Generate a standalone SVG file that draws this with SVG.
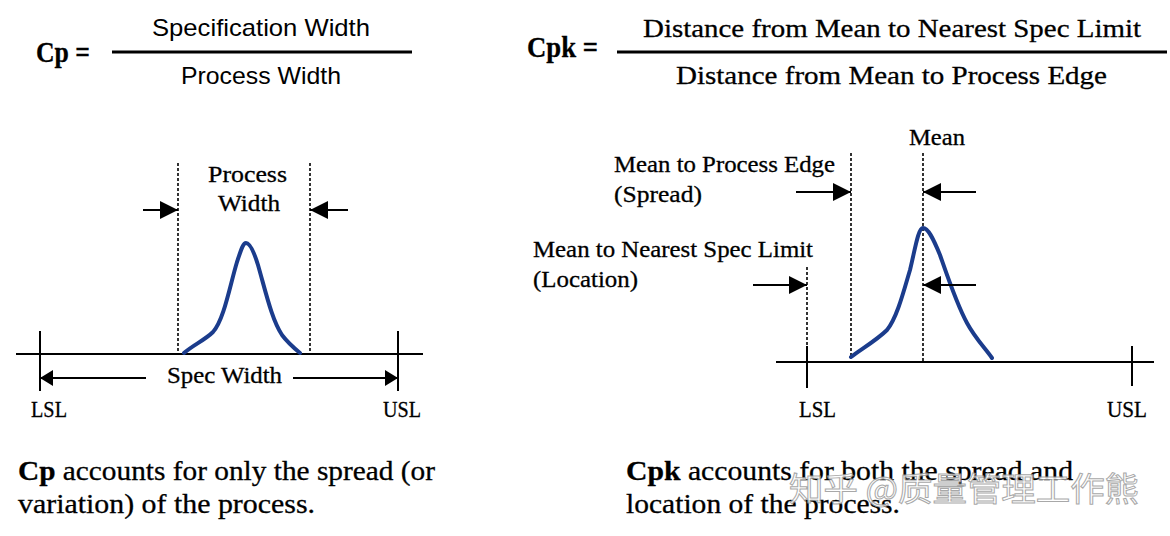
<svg xmlns="http://www.w3.org/2000/svg" width="1170" height="536" viewBox="0 0 1170 536">
<defs>
<style>
.serif{font-family:"Liberation Serif","DejaVu Serif",serif;fill:#000;stroke:#000;stroke-width:0.3}
.sans{font-family:"Liberation Sans","Open Sans",sans-serif;fill:#000}
.b{font-weight:bold}
.axis{stroke:#000;stroke-width:2;fill:none}
.frac{stroke:#000;stroke-width:3}
.dot{stroke:#000;stroke-width:1.6;stroke-dasharray:3 2;fill:none}
.arr{stroke:#000;stroke-width:2;fill:none}
.curve{stroke:#1B3C8C;stroke-width:4;fill:none;stroke-linecap:round;stroke-linejoin:round}
.wm{font-family:"Noto Sans CJK SC","DejaVu Sans",sans-serif;fill:#fff;stroke:#9a9a9a;stroke-width:1;opacity:0.85}
</style>
<marker id="ah" markerUnits="userSpaceOnUse" markerWidth="18" markerHeight="18" viewBox="0 0 18 18" refX="18" refY="9" orient="auto">
<path d="M0,0 L18,9 L0,18 Z" fill="#000"/>
</marker>
<marker id="ahs" markerUnits="userSpaceOnUse" markerWidth="13" markerHeight="16" viewBox="0 0 13 16" refX="13" refY="8" orient="auto">
<path d="M0,0 L13,8 L0,16 Z" fill="#000"/>
</marker>
</defs>
<rect width="1170" height="536" fill="#fff"/>

<g id="cp-formula">
<text class="serif b" x="36" y="62" font-size="29" textLength="54" lengthAdjust="spacingAndGlyphs">Cp =</text>
<line class="frac" x1="112" y1="52" x2="412" y2="52"/>
<text class="sans" x="152" y="36" font-size="24" textLength="218" lengthAdjust="spacingAndGlyphs">Specification Width</text>
<text class="sans" x="181" y="84" font-size="24" textLength="160" lengthAdjust="spacingAndGlyphs">Process Width</text>
</g>

<g id="cpk-formula">
<text class="serif b" x="527" y="57" font-size="29" textLength="71" lengthAdjust="spacingAndGlyphs">Cpk =</text>
<line class="frac" x1="617" y1="52" x2="1167" y2="52"/>
<text class="serif" x="643" y="37" font-size="26" textLength="498" lengthAdjust="spacingAndGlyphs">Distance from Mean to Nearest Spec Limit</text>
<text class="serif" x="676" y="84" font-size="26" textLength="431" lengthAdjust="spacingAndGlyphs">Distance from Mean to Process Edge</text>
</g>

<g id="cp-chart">
<line class="axis" x1="16" y1="354" x2="423" y2="354"/>
<line class="axis" x1="40" y1="331" x2="40" y2="391"/>
<line class="axis" x1="398" y1="331" x2="398" y2="391"/>
<line class="dot" x1="178" y1="163" x2="178" y2="354"/>
<line class="dot" x1="310" y1="163" x2="310" y2="354"/>
<path class="curve" d="M184,353 C193,345 205,340 213,332 C224,320 230,285 237,262 C241,250 243,243 246,243 C250,243 254,252 258,265 C266,293 272,320 282,335 C288,343 294,348 300,353"/>
<text class="serif" x="208" y="182" font-size="24" textLength="79" lengthAdjust="spacingAndGlyphs">Process</text>
<text class="serif" x="218" y="211" font-size="24" textLength="62" lengthAdjust="spacingAndGlyphs">Width</text>
<text class="serif" x="167" y="383" font-size="24" textLength="115" lengthAdjust="spacingAndGlyphs">Spec Width</text>
<text class="serif" x="31" y="417" font-size="23" textLength="36" lengthAdjust="spacingAndGlyphs">LSL</text>
<text class="serif" x="383" y="417" font-size="23" textLength="38" lengthAdjust="spacingAndGlyphs">USL</text>
</g>

<g id="cpk-chart">
<line class="axis" x1="776" y1="362" x2="1154" y2="362"/>
<line class="axis" x1="807" y1="346" x2="807" y2="388"/>
<line class="axis" x1="1132" y1="346" x2="1132" y2="386"/>
<line class="dot" x1="807" y1="267" x2="807" y2="346"/>
<line class="dot" x1="851" y1="153" x2="851" y2="357"/>
<line class="dot" x1="923" y1="153" x2="923" y2="362"/>
<path class="curve" d="M851,357 C860,350 877,340 887,330 C897,318 904,290 910,270 C915,250 918,228 923,228 C928,228 933,238 940,255 C947,275 957,305 967,323 C975,338 985,348 992,358"/>
<text class="serif" x="909" y="145" font-size="24" textLength="56" lengthAdjust="spacingAndGlyphs">Mean</text>
<text class="serif" x="614" y="172" font-size="24" textLength="221" lengthAdjust="spacingAndGlyphs">Mean to Process Edge</text>
<text class="serif" x="614" y="202" font-size="24" textLength="88" lengthAdjust="spacingAndGlyphs">(Spread)</text>
<text class="serif" x="533" y="257" font-size="24" textLength="280" lengthAdjust="spacingAndGlyphs">Mean to Nearest Spec Limit</text>
<text class="serif" x="533" y="287" font-size="24" textLength="105" lengthAdjust="spacingAndGlyphs">(Location)</text>
<text class="serif" x="799" y="417" font-size="23" textLength="37" lengthAdjust="spacingAndGlyphs">LSL</text>
<text class="serif" x="1107" y="417" font-size="23" textLength="40" lengthAdjust="spacingAndGlyphs">USL</text>
</g>

<g id="connectors">
<line class="arr" x1="143" y1="210" x2="178" y2="210" marker-end="url(#ah)"/>
<line class="arr" x1="348" y1="210" x2="310" y2="210" marker-end="url(#ah)"/>
<line class="arr" x1="146" y1="378" x2="40" y2="378" marker-end="url(#ahs)"/>
<line class="arr" x1="293" y1="378" x2="398" y2="378" marker-end="url(#ahs)"/>
<line class="arr" x1="796" y1="192" x2="851" y2="192" marker-end="url(#ah)"/>
<line class="arr" x1="976" y1="192" x2="923" y2="192" marker-end="url(#ah)"/>
<line class="arr" x1="753" y1="285" x2="807" y2="285" marker-end="url(#ah)"/>
<line class="arr" x1="976" y1="285" x2="923" y2="285" marker-end="url(#ah)"/>
</g>

<g id="notes">
<text class="serif" x="18" y="480" font-size="28" textLength="417" lengthAdjust="spacingAndGlyphs"><tspan class="b">Cp</tspan> accounts for only the spread (or</text>
<text class="serif" x="18" y="513" font-size="28" textLength="297" lengthAdjust="spacingAndGlyphs">variation) of the process.</text>
<text class="serif" x="626" y="480" font-size="28" textLength="447" lengthAdjust="spacingAndGlyphs"><tspan class="b">Cpk</tspan> accounts for both the spread and</text>
<text class="serif" x="626" y="513" font-size="28" textLength="274" lengthAdjust="spacingAndGlyphs">location of the process.</text>
</g>

<text class="wm" x="789" y="501" font-size="33" textLength="350" lengthAdjust="spacingAndGlyphs">知乎 @质量管理工作熊</text>
</svg>
